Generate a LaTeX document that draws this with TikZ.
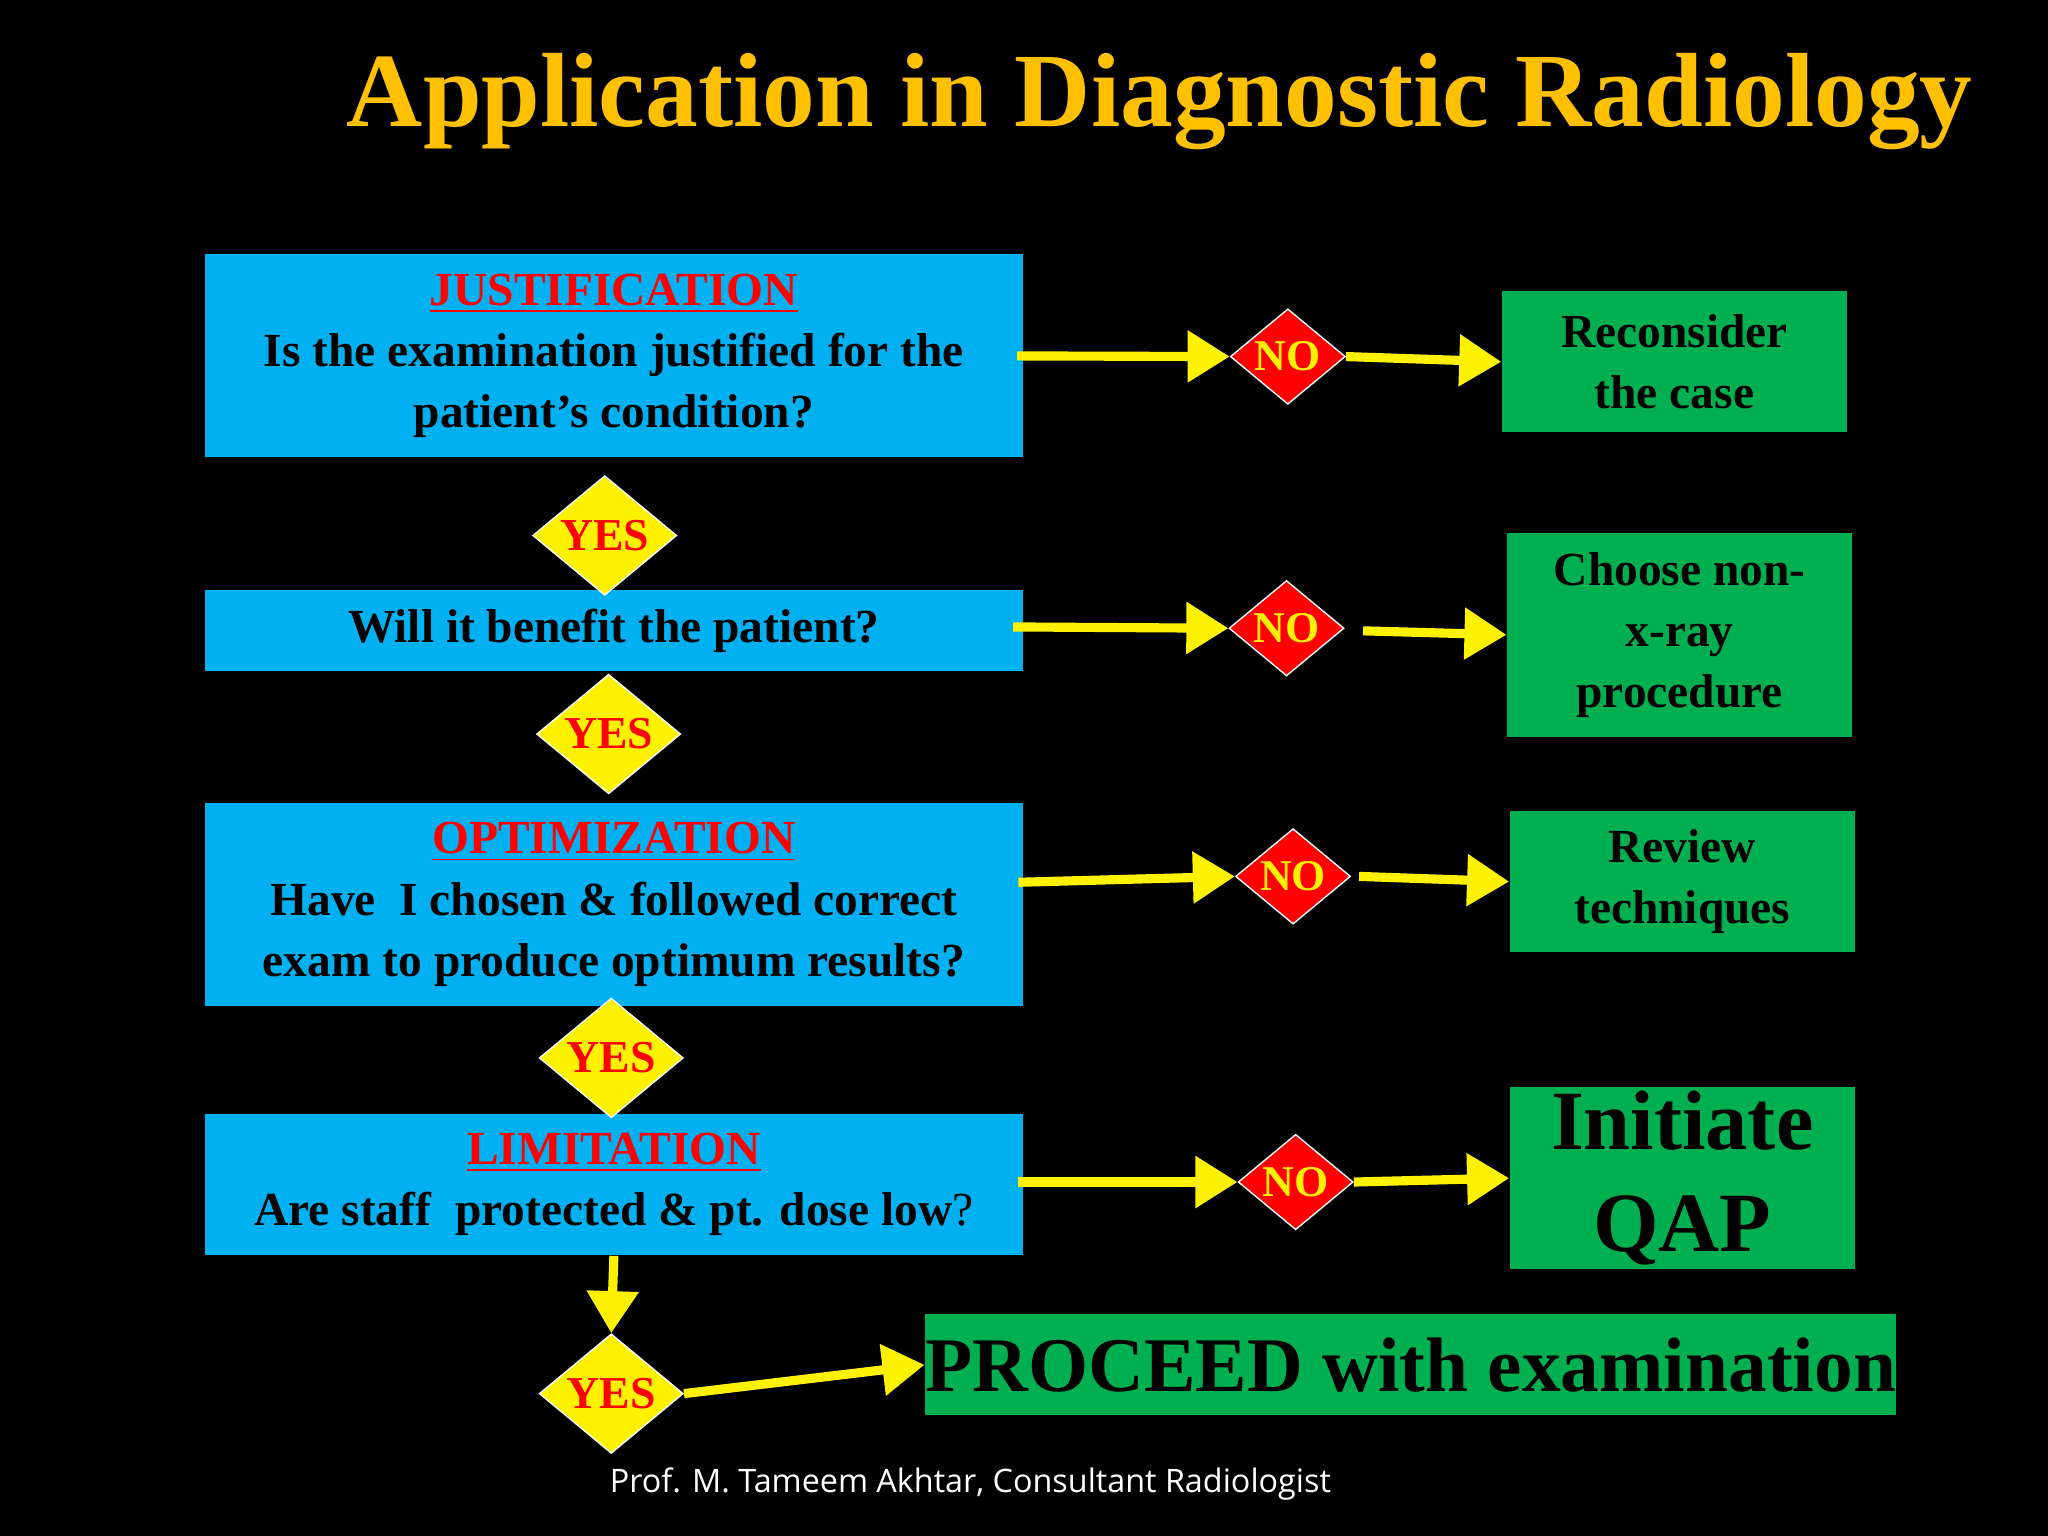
\documentclass[tikz,border=0pt]{standalone}
\usepackage{fontspec}
\setmainfont{Liberation Serif}
\newfontfamily\footfont{Open Sans}
\usetikzlibrary{shapes.geometric,arrows.meta}
\definecolor{gold}{HTML}{FFC000}
\definecolor{boxblue}{HTML}{00B0F0}
\definecolor{boxgreen}{HTML}{00B050}
\tikzset{
  question/.style={fill=boxblue,inner sep=0pt,align=center,font=\bfseries\fontsize{13.5}{17.4}\selectfont},
  outcome/.style={fill=boxgreen,inner sep=0pt,align=center,font=\bfseries\fontsize{13.5}{17.4}\selectfont},
  yes/.style={shape=diamond,fill=yellow,draw=white,inner sep=0pt,minimum width=1.44cm,minimum height=0.85cm,text=red,font=\bfseries\fontsize{13}{13}\selectfont},
  no/.style={shape=diamond,fill=red,draw=white,inner sep=0pt,minimum width=1.15cm,minimum height=0.92cm,text=yellow,font=\bfseries\fontsize{12.5}{13}\selectfont},
  go/.style={draw=yellow,line width=2.6pt,-{Triangle[length=0.42cm,width=0.5cm]}}
}
\begin{document}
\begin{tikzpicture}[x=0.01306cm,y=-0.01306cm]
\fill[black] (0,0) rectangle (1568,1176);

\node[text=gold,font=\bfseries\fontsize{30}{36}\selectfont] (title) at (888,78) {Application in Diagnostic Radiology};

% questions
\node[question,minimum width=8.18cm,minimum height=2.03cm] (just) at (470,272.5) {\textcolor{red}{\underline{JUSTIFICATION}}\\Is the examination justified for the\\patient’s condition?};
\node[question,minimum width=8.18cm,minimum height=0.81cm] (benefit) at (470,483) {Will it benefit the patient?};
\node[question,minimum width=8.18cm,minimum height=2.03cm] (optim) at (470,692.5) {\textcolor{red}{\underline{OPTIMIZATION}}\\Have\ \ I chosen \& followed correct\\exam to produce optimum results?};
\node[question,minimum width=8.18cm,minimum height=1.41cm] (limit) at (470,907) {\textcolor{red}{\underline{LIMITATION}}\\Are staff\ \ protected \& pt. dose low\textmd{?}};

% yes / no
\node[yes] (y1) at (463,410) {YES};
\node[yes] (y2) at (466,562) {YES};
\node[yes] (y3) at (468,810) {YES};
\node[yes] (y4) at (468,1067) {YES};
\node[no] (n1) at (986,273) {NO};
\node[no] (n2) at (985,481) {NO};
\node[no] (n3) at (990,671) {NO};
\node[no] (n4) at (992,905) {NO};

% outcomes
\node[outcome,minimum width=3.45cm,minimum height=1.41cm] (recons) at (1282,277) {Reconsider\\the case};
\node[outcome,minimum width=3.45cm,minimum height=2.04cm] (nonxray) at (1286,486) {Choose non-\\x-ray\\procedure};
\node[outcome,minimum width=3.45cm,minimum height=1.41cm] (review) at (1288,675) {Review\\techniques};
\node[outcome,minimum width=3.45cm,minimum height=1.82cm,font=\bfseries\fontsize{24}{29}\selectfont] (qap) at (1288,902) {Initiate\\QAP};
\node[outcome,minimum width=8.96cm,minimum height=1.01cm,font=\bfseries\fontsize{22}{26}\selectfont] (proceed) at (1080,1045) {PROCEED with examination};

\node[text=white,font=\footfont\fontsize{9.2}{11}\selectfont] (foot) at (743,1136) {Prof. M. Tameem Akhtar, Consultant Radiologist};

% arrows
\draw[go] (just.east) ++(-5,0) -- (n1.west);
\draw[go] (n1.east) -- (recons.west);
\draw[go] (benefit.east) ++(-8,-3) -- (n2.west);
\draw[go] (n2.east) ++(14,2) -- (nonxray.west);
\draw[go] (optim.east) ++(-4,-17) -- (n3.west);
\draw[go] (n3.east) ++(6,0) -- (review.west);
\draw[go] (limit.east) ++(-4,-2) -- (n4.west);
\draw[go] (n4.east) -- (qap.west);
\draw[go] (limit.south) -- (y4.north);
\draw[go] (y4.east) -- (proceed.west);
\end{tikzpicture}
\end{document}
